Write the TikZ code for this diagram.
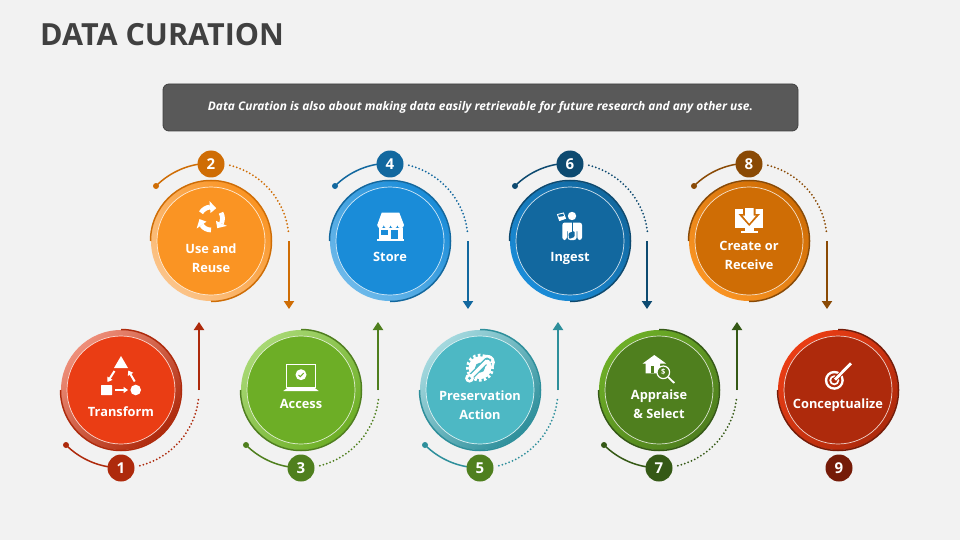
\documentclass[tikz,border=0pt]{standalone}
\usepackage{fontspec}
\setmainfont{Open Sans}
\usetikzlibrary{arrows.meta}
\definecolor{pagebg}{HTML}{F2F2F2}
\definecolor{redA}{HTML}{EA3D14}\definecolor{redB}{HTML}{AE2A0C}\definecolor{redL}{HTML}{EE8F7A}\definecolor{redD}{HTML}{751B08}
\definecolor{orgA}{HTML}{FA9423}\definecolor{orgB}{HTML}{CF6D05}\definecolor{orgL}{HTML}{FBC48A}\definecolor{orgD}{HTML}{8A4A05}
\definecolor{grnA}{HTML}{6DAE26}\definecolor{grnB}{HTML}{4F7F1E}\definecolor{grnL}{HTML}{A8D874}\definecolor{grnD}{HTML}{355916}
\definecolor{bluA}{HTML}{1A8CD8}\definecolor{bluB}{HTML}{12689F}\definecolor{bluL}{HTML}{6DB9EA}\definecolor{bluD}{HTML}{0D4A70}
\definecolor{tealA}{HTML}{4DB8C4}\definecolor{tealB}{HTML}{2E8F9B}\definecolor{tealL}{HTML}{A5D9DF}
\tikzset{
  ringup/.style 2 args={circle,inner sep=0pt,minimum size=120pt,left color=#1,right color=#2,shading angle=45},
  ringdown/.style 2 args={circle,inner sep=0pt,minimum size=120pt,left color=#1,right color=#2,shading angle=135},
  stepdisc/.style={circle,inner sep=0pt,minimum size=108pt,fill=#1,draw=white!80!#1,line width=0.7pt},
  steplabel/.style={text=white,font=\fontsize{12.8}{19}\selectfont\bfseries,align=center,inner sep=0pt},
  badge/.style={circle,inner sep=0pt,minimum size=27pt,fill=#1,text=white,font=\fontsize{15}{15}\selectfont\bfseries},
  outerarc/.style={draw=#1,line width=1.5pt},
  leadarc/.style={draw=#1,line width=1.5pt},
  dotarc/.style={draw=#1,line width=2pt,line cap=round,dash pattern=on 0pt off 3.6pt},
  flowarrow/.style={draw=#1,fill=#1,line width=2pt,-{Triangle[width=10pt,length=8pt]}},
  leaddot/.style={fill=#1},
  icon/.style={fill=white,draw=none},
  iconline/.style={draw=white,line width=2pt,-{Triangle[width=6pt,length=4.5pt]}},
  recycle/.style={draw=white,line width=4.8pt}
}
\begin{document}
\begin{tikzpicture}[x=1pt,y=1pt]
\useasboundingbox (0,0) rectangle (960,-540);
\fill [pagebg] (0,0) rectangle (960,-540);
\node (title) at (40,-34.5) [anchor=west,inner sep=0pt,text=black!75,font=\fontsize{30.5}{32}\selectfont\bfseries] {DATA CURATION};
\node (banner) at (480.5,-107.5) [rectangle,rounded corners=6pt,minimum width=635pt,minimum height=47pt,fill=black!65,draw=black!75,line width=0.8pt,text=white,font=\fontsize{11.9}{14}\selectfont\bfseries\itshape] {Data Curation is also about making data easily retrievable for future research and any other use.};
% step 1
\node (r1) at (121,-390) [ringup={redL}{redB}] {};
\node (c1) at (121,-390) [stepdisc=redA] {};
\draw [outerarc=redB] (c1.center) ++(90:60.5) arc[start angle=90,end angle=-180,radius=60.5];
\coordinate (d1) at (66,-445);
\coordinate (s1) at (199,-390);
\coordinate (e1) at (199,-322);
\draw [leadarc=redB] (d1) arc[start angle=225,end angle=270,radius=78];
\draw [dotarc=redB] (c1.center) ++(-76:78) arc[start angle=-76,end angle=-7,radius=78];
\fill [leaddot=redB] (d1) circle (3);
\draw [flowarrow=redB] (s1) -- (e1);
\node (b1) at (121,-468) [badge=redB] {1};
\node (t1) at (121,-412) [steplabel] {Transform};
\fill [icon] (121,-356) -- (128,-368) -- (114,-368) -- cycle;
\fill [icon,rounded corners=0.5pt] (101,-385) rectangle (112,-395);
\fill [icon] (135.7,-390) circle (5.3);
\draw [iconline] (115,-390) -- (128,-390);
\draw [iconline] (114.5,-371) -- (107.5,-382);
\draw [iconline] (134.7,-381.5) -- (128.3,-370.5);
% step 2
\node (r2) at (211,-241) [ringdown={orgL}{orgA}] {};
\node (c2) at (211,-241) [stepdisc=orgA] {};
\draw [outerarc=orgB] (c2.center) ++(180:60.5) arc[start angle=180,end angle=-90,radius=60.5];
\coordinate (d2) at (156,-186);
\coordinate (s2) at (289,-241);
\coordinate (e2) at (289,-309);
\draw [leadarc=orgB] (d2) arc[start angle=135,end angle=90,radius=78];
\draw [dotarc=orgB] (c2.center) ++(76:78) arc[start angle=76,end angle=7,radius=78];
\fill [leaddot=orgB] (d2) circle (3);
\draw [flowarrow=orgB] (s2) -- (e2);
\node (b2) at (211,-164) [badge=orgB] {2};
\node (t2) at (211,-258.5) [steplabel] {Use and\\Reuse};
\coordinate (k2) at (211,-218.5);
\draw [recycle] (k2) ++(150:11.5) arc[start angle=150,end angle=95,radius=11.5];
\fill [icon] ([shift={(95:17.5)}]k2) -- ([shift={(95:5.5)}]k2) -- ([shift={(63:11.5)}]k2) -- cycle;
\draw [recycle] (k2) ++(30:11.5) arc[start angle=30,end angle=-25,radius=11.5];
\fill [icon] ([shift={(-25:17.5)}]k2) -- ([shift={(-25:5.5)}]k2) -- ([shift={(-57:11.5)}]k2) -- cycle;
\draw [recycle] (k2) ++(270:11.5) arc[start angle=270,end angle=215,radius=11.5];
\fill [icon] ([shift={(215:17.5)}]k2) -- ([shift={(215:5.5)}]k2) -- ([shift={(183:11.5)}]k2) -- cycle;
% step 3
\node (r3) at (301,-390) [ringup={grnL}{grnA}] {};
\node (c3) at (301,-390) [stepdisc=grnA] {};
\draw [outerarc=grnB] (c3.center) ++(90:60.5) arc[start angle=90,end angle=-180,radius=60.5];
\coordinate (d3) at (246,-445);
\coordinate (s3) at (378,-390);
\coordinate (e3) at (378,-322);
\draw [leadarc=grnB] (d3) arc[start angle=225,end angle=270,radius=78];
\draw [dotarc=grnB] (c3.center) ++(-76:78) arc[start angle=-76,end angle=-7,radius=78];
\fill [leaddot=grnB] (d3) circle (3);
\draw [flowarrow=grnB] (s3) -- (e3);
\node (b3) at (301,-468) [badge=grnB] {3};
\node (t3) at (301,-404) [steplabel] {Access};
\draw [white,line width=0.9pt] (286.5,-364.5) rectangle (315,-387);
\fill [icon] (288.5,-387) -- (313.5,-387) -- (318.7,-391) -- (283.3,-391) -- cycle;
\fill [icon] (301,-374.7) circle (5.5);
\draw [grnA,line width=1pt] (298.5,-375) -- (300.3,-376.7) -- (303.7,-373);
% step 4
\node (r4) at (390,-241) [ringdown={bluL}{bluA}] {};
\node (c4) at (390,-241) [stepdisc=bluA] {};
\draw [outerarc=bluB] (c4.center) ++(180:60.5) arc[start angle=180,end angle=-90,radius=60.5];
\coordinate (d4) at (335,-186);
\coordinate (s4) at (468,-241);
\coordinate (e4) at (468,-309);
\draw [leadarc=bluB] (d4) arc[start angle=135,end angle=90,radius=78];
\draw [dotarc=bluB] (c4.center) ++(76:78) arc[start angle=76,end angle=7,radius=78];
\fill [leaddot=bluB] (d4) circle (3);
\draw [flowarrow=bluB] (s4) -- (e4);
\node (b4) at (390,-164) [badge=bluB] {4};
\node (t4) at (390,-257) [steplabel] {Store};
\fill [icon] (381.7,-212.7) -- (399.3,-212.7) -- (404,-225) arc[start angle=0,end angle=-180,radius=3.3] arc[start angle=0,end angle=-180,radius=3.4] arc[start angle=0,end angle=-180,radius=3.4] arc[start angle=0,end angle=-180,radius=3.3] -- cycle;
\fill [icon] (378.7,-228) rectangle (402.7,-239);
\fill [icon] (377.3,-238.7) rectangle (404,-241);
\fill [bluA] (390.7,-230) rectangle (398.3,-239);
\fill [bluA] (380.7,-230) rectangle (388.3,-234.5);
% step 5
\node (r5) at (480,-390) [ringup={tealL}{tealB}] {};
\node (c5) at (480,-390) [stepdisc=tealA] {};
\draw [outerarc=tealB] (c5.center) ++(90:60.5) arc[start angle=90,end angle=-180,radius=60.5];
\coordinate (d5) at (425,-445);
\coordinate (s5) at (558,-390);
\coordinate (e5) at (558,-322);
\draw [leadarc=tealB] (d5) arc[start angle=225,end angle=270,radius=78];
\draw [dotarc=tealB] (c5.center) ++(-76:78) arc[start angle=-76,end angle=-7,radius=78];
\fill [leaddot=tealB] (d5) circle (3);
\draw [flowarrow=tealB] (s5) -- (e5);
\node (b5) at (480,-468) [badge=grnB] {5};
\node (t5) at (480,-405.5) [steplabel] {Preservation\\Action};
\fill [icon] (480,-367.7) circle (11.5);
\draw [white,line width=3pt,dash pattern=on 2.5pt off 2.3pt] (480,-367.7) circle (12.5);
\fill [tealA] (480,-367.7) circle (5);
\draw [tealA,line width=6pt] (470,-377.7) -- (489,-358.7);
\draw [white,line width=3.4pt] (470,-377.7) -- (487,-360.7);
\fill [icon] (469.5,-378.2) circle (4.4);
\fill [tealA] (469.5,-378.2) circle (1.6);
\draw [white,line width=2.6pt] (484.2,-357) arc[start angle=120,end angle=-30,radius=6.2];
\fill [icon] (487.5,-362.3) circle (2.6);
% step 6
\node (r6) at (570,-241) [ringdown={bluA}{bluB}] {};
\node (c6) at (570,-241) [stepdisc=bluB] {};
\draw [outerarc=bluD] (c6.center) ++(180:60.5) arc[start angle=180,end angle=-90,radius=60.5];
\coordinate (d6) at (515,-186);
\coordinate (s6) at (647,-241);
\coordinate (e6) at (647,-309);
\draw [leadarc=bluD] (d6) arc[start angle=135,end angle=90,radius=78];
\draw [dotarc=bluD] (c6.center) ++(76:78) arc[start angle=76,end angle=7,radius=78];
\fill [leaddot=bluD] (d6) circle (3);
\draw [flowarrow=bluD] (s6) -- (e6);
\node (b6) at (570,-164) [badge=bluD] {6};
\node (t6) at (570,-258) [steplabel] {Ingest};
\fill [icon] (572,-216) circle (4.2);
\fill [icon,rounded corners=2.5pt] (562.3,-240) -- (562.3,-222.5) -- (582,-222.5) -- (582,-240) -- (577.4,-240) -- (577.4,-229) -- (576.6,-229) -- (576.6,-240) -- (567.6,-240) -- (567.6,-229) -- (566.8,-229) -- (566.8,-240) -- cycle;
\fill [bluB,rounded corners=1pt] (568.5,-233) -- (574.5,-231) -- (574.5,-237) -- (569,-239) -- cycle;
\draw [bluB,line width=0.8pt] (572,-221) -- (572,-232);
\draw [white,line width=0.9pt] (557.5,-214.5) -- (563.5,-213) -- (565.5,-218.5) -- (559.5,-220.5) -- cycle;
\fill [icon] (558.5,-217) -- (564.5,-216) -- (565.5,-218.5) -- (559.5,-220.5) -- cycle;
% step 7
\node (r7) at (659,-390) [ringup={grnA}{grnB}] {};
\node (c7) at (659,-390) [stepdisc=grnB] {};
\draw [outerarc=grnD] (c7.center) ++(90:60.5) arc[start angle=90,end angle=-180,radius=60.5];
\coordinate (d7) at (604,-445);
\coordinate (s7) at (737,-390);
\coordinate (e7) at (737,-322);
\draw [leadarc=grnD] (d7) arc[start angle=225,end angle=270,radius=78];
\draw [dotarc=grnD] (c7.center) ++(-76:78) arc[start angle=-76,end angle=-7,radius=78];
\fill [leaddot=grnD] (d7) circle (3);
\draw [flowarrow=grnD] (s7) -- (e7);
\node (b7) at (659,-468) [badge=grnD] {7};
\node (t7) at (659,-404.5) [steplabel] {Appraise\\\& Select};
\fill [icon] (654.3,-355) -- (666,-363.5) -- (660,-363.5) -- (660,-373.3) -- (645.7,-373.3) -- (645.7,-363.5) -- (642.7,-363.5) -- cycle;
\fill [grnB] (650.5,-366) rectangle (654,-373.3);
\draw [white,line width=1.2pt,fill=grnB] (663.3,-372.3) circle (6.3);
\draw [white,line width=1.8pt] (668,-377) -- (674.3,-383);
\node (dollar) at (663.3,-372.3) [inner sep=0pt,text=white,font=\fontsize{7.5}{8}\selectfont\bfseries] {\$};
% step 8
\node (r8) at (749,-241) [ringdown={orgA}{orgB}] {};
\node (c8) at (749,-241) [stepdisc=orgB] {};
\draw [outerarc=orgD] (c8.center) ++(180:60.5) arc[start angle=180,end angle=-90,radius=60.5];
\coordinate (d8) at (694,-186);
\coordinate (s8) at (827,-241);
\coordinate (e8) at (827,-309);
\draw [leadarc=orgD] (d8) arc[start angle=135,end angle=90,radius=78];
\draw [dotarc=orgD] (c8.center) ++(76:78) arc[start angle=76,end angle=7,radius=78];
\fill [leaddot=orgD] (d8) circle (3);
\draw [flowarrow=orgD] (s8) -- (e8);
\node (b8) at (749,-164) [badge=orgD] {8};
\node (t8) at (749,-255.5) [steplabel] {Create or\\Receive};
\fill [icon] (735,-209) rectangle (763.3,-227.5);
\fill [orgB] (743,-208) -- (755.5,-208) -- (755.5,-214) -- (760,-214) -- (749.2,-226) -- (738.5,-214) -- (743,-214) -- cycle;
\fill [icon] (745,-208) -- (753.5,-208) -- (753.5,-215.5) -- (756,-215.5) -- (749.2,-223.5) -- (742.5,-215.5) -- (745,-215.5) -- cycle;
\fill [icon] (745,-227.5) rectangle (753.5,-231);
\fill [icon] (741,-231) rectangle (757.5,-233.3);
% step 9
\node (r9) at (838,-390) [ringup={redA}{redB}] {};
\node (c9) at (838,-390) [stepdisc=redB] {};
\draw [outerarc=redD] (c9.center) ++(90:60.5) arc[start angle=90,end angle=-180,radius=60.5];
\node (b9) at (839,-468) [badge=redD] {9};
\node (t9) at (838,-405) [steplabel] {Conceptualize};
\fill [icon] (834.3,-380.3) circle (9.5);
\fill [redB] (834.3,-380.3) circle (7);
\fill [icon] (834.3,-380.3) circle (5);
\fill [redB] (834.3,-380.3) circle (3);
\draw [redB,line width=4.4pt] (835,-379.6) -- (849,-365.3);
\draw [white,line width=2.8pt] (835,-379.6) -- (851,-363.3);
\end{tikzpicture}
\end{document}
